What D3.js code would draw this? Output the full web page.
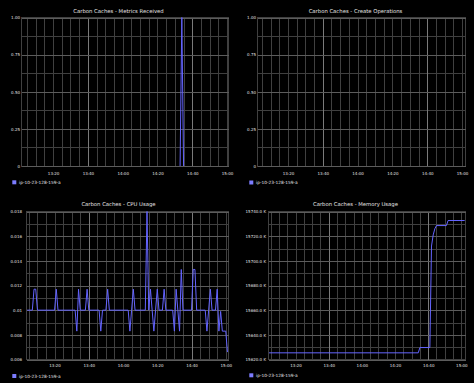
<!DOCTYPE html>
<html>
<head>
<meta charset="utf-8">
<script src="https://cdnjs.cloudflare.com/ajax/libs/d3/7.8.5/d3.min.js"></script>
<style>
	body { margin: 0; background: #000; }
	svg text { font-family: "DejaVu Sans", sans-serif; fill: #e4e4e4; }
</style>
</head>
<body>
<div id="grafika"></div>
<script>
const day = "2014-06-10 ";
const parse_time = d3.timeParse("%Y-%m-%d %H:%M:%S");
const t = s => parse_time(day + (s.length === 5 ? s + ":00" : s));

// time range of each graph (they were rendered a little apart)
const range_start = ["13:01:50", "13:02:30", "13:03:36", "13:03:40"];
const range_end = ["15:00:50", "15:02:00", "15:01:36", "15:02:30"];
const label_times = ["13:20", "13:40", "14:00", "14:20", "14:40", "15:00"];
const major_times = ["13:40", "14:40"];

const titles = ["Carbon Caches - Metrics Received", "Carbon Caches - Create Operations",
	"Carbon Caches - CPU Usage", "Carbon Caches - Memory Usage"];
const series_name = "ip-10-23-128-159-a";

const metrics_y_ticks = [0, 0.25, 0.5, 0.75, 1];
const metrics_y_labels = ["0", "0.25", "0.50", "0.75", "1.00"];
const create_y_ticks = [0, 0.25, 0.5, 0.75, 1];
const create_y_labels = ["0", "0.25", "0.50", "0.75", "1.00"];
const cpu_y_ticks = [0.006, 0.008, 0.01, 0.012, 0.014, 0.016, 0.018];
const cpu_y_labels = ["0.006", "0.008", "0.01", "0.012", "0.014", "0.016", "0.018"];
const mem_y_ticks = [15620, 15640, 15660, 15680, 15700, 15720, 15740];
const mem_y_labels = ["15620.0 K", "15640.0 K", "15660.0 K", "15680.0 K", "15700.0 K", "15720.0 K", "15740.0 K"];

// series (points where the line turns)
const metrics_times = ["14:33", "14:34", "14:35"];
const metrics_values = [0, 1, 0];
const create_times = [];
const create_values = [];
const cpu_times = ["13:04", "13:07", "13:08", "13:09", "13:10", "13:20", "13:21", "13:22",
	"13:32", "13:33", "13:34", "13:35", "13:38", "13:39", "13:40", "13:46", "13:47", "13:48",
	"13:50", "13:51", "13:52", "14:03", "14:04", "14:05", "14:06", "14:07", "14:13", "14:14",
	"14:15", "14:16", "14:17", "14:18", "14:19", "14:20", "14:21", "14:23", "14:24", "14:25",
	"14:29", "14:30", "14:31", "14:32", "14:33", "14:34", "14:35", "14:40", "14:41", "14:42",
	"14:43", "14:48", "14:49", "14:50", "14:51", "14:52", "14:54", "14:55", "14:56", "14:57",
	"14:58", "15:00", "15:01"];
const cpu_values = [0.01, 0.01, 0.0117, 0.0117, 0.01, 0.01, 0.0117, 0.01,
	0.01, 0.0083, 0.0117, 0.01, 0.01, 0.0117, 0.01, 0.01, 0.0083, 0.01,
	0.01, 0.0117, 0.01, 0.01, 0.0083, 0.01, 0.0117, 0.01, 0.01, 0.018,
	0.01, 0.0117, 0.01, 0.0083, 0.01, 0.0117, 0.01, 0.01, 0.0117, 0.01,
	0.01, 0.0083, 0.0117, 0.01, 0.0083, 0.0133, 0.01, 0.01, 0.0133, 0.0133,
	0.01, 0.01, 0.0083, 0.01, 0.0117, 0.01, 0.01, 0.0117, 0.0083, 0.0099,
	0.0083, 0.0083, 0.0066];
const mem_times = ["13:04", "14:34", "14:35", "14:41", "14:42", "14:43", "14:44", "14:45",
	"14:51", "14:52", "15:02"];
const mem_values = [15625.4, 15625.4, 15629.7, 15629.7, 15712, 15721, 15726, 15728.6,
	15728.6, 15732.7, 15732.7];

const graphs = [
	{ times: metrics_times, values: metrics_values, ticks: metrics_y_ticks, labels: metrics_y_labels },
	{ times: create_times, values: create_values, ticks: create_y_ticks, labels: create_y_labels },
	{ times: cpu_times, values: cpu_values, ticks: cpu_y_ticks, labels: cpu_y_labels },
	{ times: mem_times, values: mem_values, ticks: mem_y_ticks, labels: mem_y_labels }
];

// where each graph sits in the picture
const layout = [
	{ x0: 0, y0: 0, left: 21.5, right: 228.5, top: 17.5, bottom: 166, gap: 1.5, title_y: 11, xlab_y: 173.3, legend_y: 182.3 },
	{ x0: 237, y0: 0, left: 20.5, right: 228.5, top: 17.5, bottom: 166, gap: 1.5, title_y: 11, xlab_y: 173.3, legend_y: 182.5 },
	{ x0: 0, y0: 192, left: 26.5, right: 228.5, top: 19.5, bottom: 167.5, gap: 4.5, title_y: 12.3, xlab_y: 173.5, legend_y: 184 },
	{ x0: 237, y0: 192, left: 31.5, right: 228.5, top: 19.5, bottom: 167.5, gap: 2.5, title_y: 12.3, xlab_y: 173.5, legend_y: 183.3 }
];

const minor_color = "#404040";
const major_color = "#7a7a7a";
const line_color = "#6464ff";

const svg = d3.select("#grafika")
	.append("svg")
	.attr("width", 474)
	.attr("height", 383)
	.style("display", "block")
	.style("background", "#000");

graphs.forEach((graph, i) => {
	const p = layout[i];
	const g = svg.append("g").attr("transform", `translate(${p.x0},${p.y0})`);

	const x_scale = d3.scaleTime()
		.domain([t(range_start[i]), t(range_end[i])])
		.range([p.left, p.right]);
	const y_scale = d3.scaleLinear()
		.domain(d3.extent(graph.ticks))
		.range([p.bottom, p.top]);

	// minor grid
	g.append("g")
		.attr("transform", `translate(0,${p.bottom})`)
		.call(d3.axisBottom(x_scale).ticks(d3.timeMinute.every(5)).tickSize(-(p.bottom - p.top)).tickFormat(""))
		.call(a => a.select(".domain").remove())
		.selectAll("line").attr("stroke", minor_color).attr("shape-rendering", "crispEdges");
	g.append("g")
		.attr("transform", `translate(${p.left},0)`)
		.call(d3.axisLeft(y_scale).tickValues(d3.pairs(graph.ticks).map(d => (d[0] + d[1]) / 2))
			.tickSize(-(p.right - p.left)).tickFormat(""))
		.call(a => a.select(".domain").remove())
		.selectAll("line").attr("stroke", minor_color).attr("shape-rendering", "crispEdges");

	g.append("rect")
		.attr("x", p.left).attr("y", p.top)
		.attr("width", p.right - p.left).attr("height", p.bottom - p.top)
		.attr("fill", "none").attr("stroke", minor_color)
		.attr("shape-rendering", "crispEdges");

	// major grid
	g.append("g")
		.attr("transform", `translate(0,${p.bottom})`)
		.call(d3.axisBottom(x_scale).tickValues(major_times.map(t)).tickSize(-(p.bottom - p.top)).tickFormat(""))
		.call(a => a.select(".domain").remove())
		.selectAll("line").attr("stroke", major_color).attr("shape-rendering", "crispEdges");

	const y_axis = g.append("g")
		.attr("transform", `translate(${p.left},0)`)
		.call(d3.axisLeft(y_scale).tickValues(graph.ticks)
			.tickSize(-(p.right - p.left)).tickPadding(p.gap)
			.tickFormat((d, k) => graph.labels[k]))
		.call(a => a.select(".domain").remove());
	y_axis.selectAll("line").attr("stroke", "#5c5c5c").attr("shape-rendering", "crispEdges");
	y_axis.selectAll("text")
		.attr("font-size", 4)
		.attr("fill", null)
		.attr("font-family", null);

	// time labels
	const x_axis = g.append("g")
		.attr("transform", `translate(0,${p.bottom})`)
		.call(d3.axisBottom(x_scale).tickValues(label_times.map(t)).tickSize(0)
			.tickFormat(d3.timeFormat("%H:%M")))
		.call(a => a.select(".domain").remove());
	x_axis.selectAll("text")
		.attr("y", p.xlab_y - p.bottom)
		.attr("dy", "0.36em")
		.attr("font-size", 4)
		.attr("fill", null)
		.attr("font-family", null);

	// series
	const points = graph.times.map((d, k) => [t(d), graph.values[k]]);
	const line = d3.line()
		.x(d => x_scale(d[0]))
		.y(d => y_scale(d[1]));
	g.append("path")
		.datum(points)
		.attr("d", points.length ? line(points) : null)
		.attr("fill", "none")
		.attr("stroke", line_color)
		.attr("stroke-width", 1);

	// title
	g.append("text")
		.attr("x", 118.5)
		.attr("y", p.title_y)
		.attr("dy", "0.36em")
		.attr("text-anchor", "middle")
		.attr("font-size", 5.3)
		.text(titles[i]);

	// legend
	g.append("rect")
		.attr("x", 12.3).attr("y", p.legend_y - 2)
		.attr("width", 4).attr("height", 4)
		.attr("fill", "#7c7cff");
	g.append("text")
		.attr("x", 19)
		.attr("y", p.legend_y)
		.attr("dy", "0.36em")
		.attr("font-size", 4.3)
		.text(series_name);
});
</script>
</body>
</html>
